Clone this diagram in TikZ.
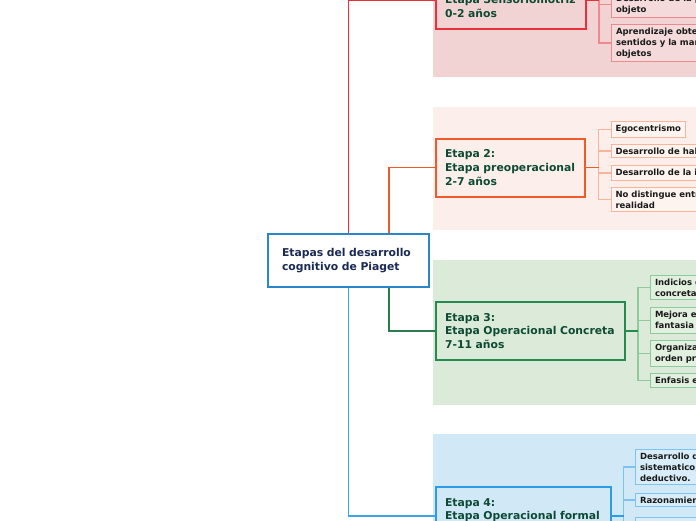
\documentclass[tikz,border=0pt]{standalone}
\usepackage{fontspec}
\setmainfont{DejaVu Sans}
\definecolor{r1bg}{HTML}{F2D3D4}
\definecolor{r1c}{HTML}{E8303A}
\definecolor{r1l}{HTML}{EE8A8E}
\definecolor{r1f}{HTML}{F5DADB}
\definecolor{r2bg}{HTML}{FCEFEB}
\definecolor{r2c}{HTML}{F05A28}
\definecolor{r2l}{HTML}{F9B49A}
\definecolor{r2f}{HTML}{FDF3EF}
\definecolor{r3bg}{HTML}{DCEBD9}
\definecolor{r3c}{HTML}{248A4E}
\definecolor{r3l}{HTML}{8FCB9A}
\definecolor{r3f}{HTML}{E2F0DF}
\definecolor{r4bg}{HTML}{D1E8F7}
\definecolor{r4c}{HTML}{2D9BE6}
\definecolor{r4l}{HTML}{7CC3EF}
\definecolor{r4f}{HTML}{D8EDF9}
\definecolor{cen}{HTML}{2B86C8}
\definecolor{ctext}{HTML}{1B2A55}
\definecolor{stext}{HTML}{0D4A33}
\definecolor{leaftext}{HTML}{1A1A1A}
\definecolor{l3c}{HTML}{2E7D4F}
\definecolor{l4c}{HTML}{3AA3EA}
\begin{document}
\begin{tikzpicture}[x=1pt,y=-1pt,
  stage/.style={draw, line width=2pt, inner xsep=9pt, inner ysep=0pt, align=left, anchor=west,
    minimum height=58pt, font=\fontsize{10.8}{13.7}\selectfont\bfseries, text=stext},
  centre/.style={draw=cen, line width=2pt, fill=white, inner xsep=14pt, inner ysep=0pt,
    text width=133pt, minimum height=53pt, align=left,
    font=\fontsize{10.8}{13.7}\selectfont\bfseries, text=ctext},
  leaf/.style={draw, line width=1pt, inner xsep=4.5pt, inner ysep=3.5pt, align=left, anchor=west,
    font=\fontsize{8.5}{11}\selectfont\bfseries, text=leaftext},
  link/.style={line width=1.3pt},
  twig/.style={line width=1.1pt}]
\useasboundingbox (0,0) rectangle (696,520);
\clip (0,0) rectangle (696,520);
\fill[white] (0,0) rectangle (696,520);
% regions
\fill[r1bg] (433,-40) rectangle (700,77);
\fill[r2bg] (433,107) rectangle (700,230);
\fill[r3bg] (433,260) rectangle (700,405);
\fill[r4bg] (433,434) rectangle (700,530);

% nodes
\node[centre] (c) at (348.5,260.5) {Etapas del desarrollo\\cognitivo de Piaget};
\node[stage, draw=r1c, fill=r1bg, text width=132pt] (s1) at (435,0) {Etapa 1:\\Etapa Sensoriomotriz\\0-2 años};
\node[stage, draw=r2c, fill=r2bg, text width=131pt] (s2) at (435,167.5) {Etapa 2:\\Etapa preoperacional\\2-7 años};
\node[stage, draw=r3c, fill=r3bg, text width=171pt] (s3) at (435,331) {Etapa 3:\\Etapa Operacional Concreta\\7-11 años};
\node[stage, draw=r4c, fill=r4bg, text width=157pt] (s4) at (435,516) {Etapa 4:\\Etapa Operacional formal\\11 años en adelante};

\node[leaf, draw=r1l, fill=r1f] (l11) at (611,4.5) {Desarrollo de la permanencia del\\objeto};
\node[leaf, draw=r1l, fill=r1f] (l12) at (611,43) {Aprendizaje obtenido a través de los\\sentidos y la manipulación de\\objetos};

\node[leaf, draw=r2l, fill=r2f] (l21) at (610.5,129.5) {Egocentrismo};
\node[leaf, draw=r2l, fill=r2f] (l22) at (610.5,151) {Desarrollo de habilidades simbólicas};
\node[leaf, draw=r2l, fill=r2f] (l23) at (610.5,173) {Desarrollo de la imaginación};
\node[leaf, draw=r2l, fill=r2f] (l24) at (610.5,199.5) {No distingue entre fantasía y\\realidad};

\node[leaf, draw=r3l, fill=r3f] (l31) at (650,287.5) {Indicios de pensamiento lógico\\concretas};
\node[leaf, draw=r3l, fill=r3f] (l32) at (650,320.5) {Mejora en la distinción entre\\fantasia y realidad};
\node[leaf, draw=r3l, fill=r3f] (l33) at (650,353.5) {Organiza los objetos en un\\orden progresivo};
\node[leaf, draw=r3l, fill=r3f] (l34) at (650,380.5) {Enfasis en la realidad};

\node[leaf, draw=r4l, fill=r4f] (l41) at (635,467) {Desarrollo del pensamiento\\sistematico, hipotético\\deductivo.};
\node[leaf, draw=r4l, fill=r4f] (l42) at (635,500) {Razonamiento abstracto};
\node[leaf, draw=r4l, fill=r4f, inner ysep=7pt] (l43) at (635,533.5) {Pensamiento lógico\\científico};

% main connectors
\draw[link, r1c] (c.north) |- (s1.west);
\draw[link, r2c] ([xshift=40.5pt]c.north) |- (s2.west);
\draw[link, l3c] ([xshift=40.5pt]c.south) |- (s3.west);
\draw[link, l4c] (c.south) |- (s4.west);

% twigs
\foreach \l in {l11,l12} \draw[twig, r1l] (s1.east) ++(12,0) |- (\l.west);
\draw[link, r1c] (s1.east) -- ++(12,0);
\foreach \l in {l21,l22,l23,l24} \draw[twig, r2l] (s2.east) ++(12.5,0) |- (\l.west);
\draw[link, r2c] (s2.east) -- ++(12.5,0);
\foreach \l in {l31,l32,l33,l34} \draw[twig, r3l] (s3.east) ++(12,0) |- (\l.west);
\draw[link, r3c] (s3.east) -- ++(12,0);
\foreach \l in {l41,l42,l43} \draw[twig, r4l] (s4.east) ++(11.5,0) |- (\l.west);
\draw[link, r4c] (s4.east) -- ++(11.5,0);
\end{tikzpicture}
\end{document}
